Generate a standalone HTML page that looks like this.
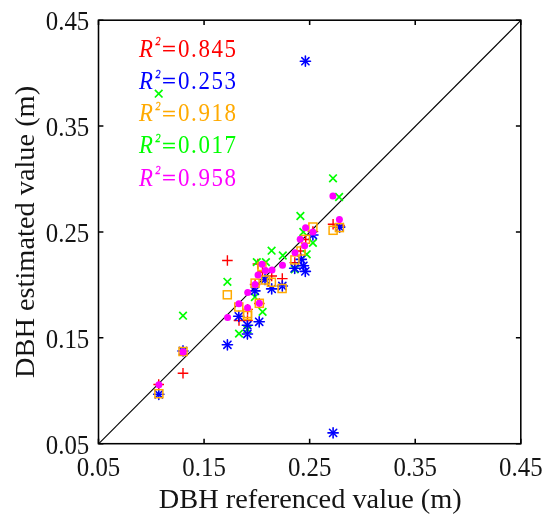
<!DOCTYPE html>
<html><head><meta charset="utf-8"><style>
html,body{margin:0;padding:0;background:#fff;width:550px;height:525px;overflow:hidden}
svg{display:block}
</style></head><body>
<svg width="550" height="525" viewBox="0 0 550 525">
<rect width="550" height="525" fill="#fff"/>
<line x1="98.8" y1="443.7" x2="521.0999999999999" y2="20.2" stroke="#000" stroke-width="1.15"/>
<g stroke-width="1.4" fill="none" stroke-linecap="butt">
<path d="M153.40 384.50H164.00M158.70 379.20V389.80" stroke="#ff0000"/>
<path d="M177.70 373.30H188.30M183.00 368.00V378.60" stroke="#ff0000"/>
<path d="M222.10 260.50H232.70M227.40 255.20V265.80" stroke="#ff0000"/>
<path d="M233.70 320.50H244.30M239.00 315.20V325.80" stroke="#ff0000"/>
<path d="M242.20 320.50H252.80M247.50 315.20V325.80" stroke="#ff0000"/>
<path d="M242.30 309.40H252.90M247.60 304.10V314.70" stroke="#ff0000"/>
<path d="M252.60 264.00H263.20M257.90 258.70V269.30" stroke="#ff0000"/>
<path d="M257.20 272.00H267.80M262.50 266.70V277.30" stroke="#ff0000"/>
<path d="M266.40 276.00H277.00M271.70 270.70V281.30" stroke="#ff0000"/>
<path d="M277.00 278.60H287.60M282.30 273.30V283.90" stroke="#ff0000"/>
<path d="M289.50 262.60H300.10M294.80 257.30V267.90" stroke="#ff0000"/>
<path d="M295.20 251.00H305.80M300.50 245.70V256.30" stroke="#ff0000"/>
<path d="M300.40 239.50H311.00M305.70 234.20V244.80" stroke="#ff0000"/>
<path d="M307.60 231.60H318.20M312.90 226.30V236.90" stroke="#ff0000"/>
<path d="M327.80 224.30H338.40M333.10 219.00V229.60" stroke="#ff0000"/>
<path d="M334.20 225.50H344.80M339.50 220.20V230.80" stroke="#ff0000"/>
<path d="M249.80 284.50H260.40M255.10 279.20V289.80" stroke="#ff0000"/>
<path d="M254.00 303.50H264.60M259.30 298.20V308.80" stroke="#ff0000"/>
</g>
<g stroke-width="1.7" fill="none" stroke-linecap="butt">
<path d="M154.90 89.90L162.50 97.50M154.90 97.50L162.50 89.90" stroke="#00ff00"/>
<path d="M179.20 311.90L186.80 319.50M179.20 319.50L186.80 311.90" stroke="#00ff00"/>
<path d="M223.60 278.00L231.20 285.60M223.60 285.60L231.20 278.00" stroke="#00ff00"/>
<path d="M235.20 329.80L242.80 337.40M235.20 337.40L242.80 329.80" stroke="#00ff00"/>
<path d="M243.60 325.60L251.20 333.20M243.60 333.20L251.20 325.60" stroke="#00ff00"/>
<path d="M253.00 258.30L260.60 265.90M253.00 265.90L260.60 258.30" stroke="#00ff00"/>
<path d="M262.10 258.30L269.70 265.90M262.10 265.90L269.70 258.30" stroke="#00ff00"/>
<path d="M267.80 246.90L275.40 254.50M267.80 254.50L275.40 246.90" stroke="#00ff00"/>
<path d="M279.00 251.70L286.60 259.30M279.00 259.30L286.60 251.70" stroke="#00ff00"/>
<path d="M251.10 293.20L258.70 300.80M251.10 300.80L258.70 293.20" stroke="#00ff00"/>
<path d="M258.80 308.10L266.40 315.70M258.80 315.70L266.40 308.10" stroke="#00ff00"/>
<path d="M290.90 265.60L298.50 273.20M290.90 273.20L298.50 265.60" stroke="#00ff00"/>
<path d="M296.60 212.20L304.20 219.80M296.60 219.80L304.20 212.20" stroke="#00ff00"/>
<path d="M299.50 228.20L307.10 235.80M299.50 235.80L307.10 228.20" stroke="#00ff00"/>
<path d="M302.90 250.50L310.50 258.10M302.90 258.10L310.50 250.50" stroke="#00ff00"/>
<path d="M309.10 239.10L316.70 246.70M309.10 246.70L316.70 239.10" stroke="#00ff00"/>
<path d="M329.20 174.50L336.80 182.10M329.20 182.10L336.80 174.50" stroke="#00ff00"/>
<path d="M335.30 193.20L342.90 200.80M335.30 200.80L342.90 193.20" stroke="#00ff00"/>
</g>
<g stroke-width="1.6" fill="none" stroke-linecap="round">
<path d="M153.70 394.30H163.90M158.80 389.20V399.40" stroke="#0000ff"/><path d="M155.20 390.70L162.40 397.90M155.20 397.90L162.40 390.70" stroke="#0000ff"/>
<path d="M177.90 351.00H188.10M183.00 345.90V356.10" stroke="#0000ff"/><path d="M179.40 347.40L186.60 354.60M179.40 354.60L186.60 347.40" stroke="#0000ff"/>
<path d="M222.30 344.80H232.50M227.40 339.70V349.90" stroke="#0000ff"/><path d="M223.80 341.20L231.00 348.40M223.80 348.40L231.00 341.20" stroke="#0000ff"/>
<path d="M233.70 316.30H243.90M238.80 311.20V321.40" stroke="#0000ff"/><path d="M235.20 312.70L242.40 319.90M235.20 319.90L242.40 312.70" stroke="#0000ff"/>
<path d="M242.30 325.20H252.50M247.40 320.10V330.30" stroke="#0000ff"/><path d="M243.80 321.60L251.00 328.80M243.80 328.80L251.00 321.60" stroke="#0000ff"/>
<path d="M242.30 334.00H252.50M247.40 328.90V339.10" stroke="#0000ff"/><path d="M243.80 330.40L251.00 337.60M243.80 337.60L251.00 330.40" stroke="#0000ff"/>
<path d="M254.10 321.80H264.30M259.20 316.70V326.90" stroke="#0000ff"/><path d="M255.60 318.20L262.80 325.40M255.60 325.40L262.80 318.20" stroke="#0000ff"/>
<path d="M249.80 290.90H260.00M254.90 285.80V296.00" stroke="#0000ff"/><path d="M251.30 287.30L258.50 294.50M251.30 294.50L258.50 287.30" stroke="#0000ff"/>
<path d="M259.90 279.50H270.10M265.00 274.40V284.60" stroke="#0000ff"/><path d="M261.40 275.90L268.60 283.10M261.40 283.10L268.60 275.90" stroke="#0000ff"/>
<path d="M266.60 288.90H276.80M271.70 283.80V294.00" stroke="#0000ff"/><path d="M268.10 285.30L275.30 292.50M268.10 292.50L275.30 285.30" stroke="#0000ff"/>
<path d="M277.20 286.00H287.40M282.30 280.90V291.10" stroke="#0000ff"/><path d="M278.70 282.40L285.90 289.60M278.70 289.60L285.90 282.40" stroke="#0000ff"/>
<path d="M289.60 268.30H299.80M294.70 263.20V273.40" stroke="#0000ff"/><path d="M291.10 264.70L298.30 271.90M291.10 271.90L298.30 264.70" stroke="#0000ff"/>
<path d="M296.10 259.40H306.30M301.20 254.30V264.50" stroke="#0000ff"/><path d="M297.60 255.80L304.80 263.00M297.60 263.00L304.80 255.80" stroke="#0000ff"/>
<path d="M298.30 265.80H308.50M303.40 260.70V270.90" stroke="#0000ff"/><path d="M299.80 262.20L307.00 269.40M299.80 269.40L307.00 262.20" stroke="#0000ff"/>
<path d="M300.20 271.40H310.40M305.30 266.30V276.50" stroke="#0000ff"/><path d="M301.70 267.80L308.90 275.00M301.70 275.00L308.90 267.80" stroke="#0000ff"/>
<path d="M300.30 61.20H310.50M305.40 56.10V66.30" stroke="#0000ff"/><path d="M301.80 57.60L309.00 64.80M301.80 64.80L309.00 57.60" stroke="#0000ff"/>
<path d="M307.80 235.00H318.00M312.90 229.90V240.10" stroke="#0000ff"/><path d="M309.30 231.40L316.50 238.60M309.30 238.60L316.50 231.40" stroke="#0000ff"/>
<path d="M328.00 432.90H338.20M333.10 427.80V438.00" stroke="#0000ff"/><path d="M329.50 429.30L336.70 436.50M329.50 436.50L336.70 429.30" stroke="#0000ff"/>
<path d="M334.60 227.10H344.80M339.70 222.00V232.20" stroke="#0000ff"/><path d="M336.10 223.50L343.30 230.70M336.10 230.70L343.30 223.50" stroke="#0000ff"/>
</g>
<g stroke-width="1.5" fill="none">
<rect x="154.90" y="389.70" width="8.00" height="8.00" stroke="#ffaa00" fill="none"/>
<rect x="179.00" y="347.50" width="8.00" height="8.00" stroke="#ffaa00" fill="none"/>
<rect x="223.30" y="290.80" width="8.00" height="8.00" stroke="#ffaa00" fill="none"/>
<rect x="234.80" y="303.00" width="8.00" height="8.00" stroke="#ffaa00" fill="none"/>
<rect x="243.50" y="309.60" width="8.00" height="8.00" stroke="#ffaa00" fill="none"/>
<rect x="243.50" y="311.50" width="8.00" height="8.00" stroke="#ffaa00" fill="none"/>
<rect x="255.30" y="299.30" width="8.00" height="8.00" stroke="#ffaa00" fill="none"/>
<rect x="251.10" y="279.10" width="8.00" height="8.00" stroke="#ffaa00" fill="none"/>
<rect x="257.90" y="262.50" width="8.00" height="8.00" stroke="#ffaa00" fill="none"/>
<rect x="261.50" y="276.00" width="8.00" height="8.00" stroke="#ffaa00" fill="none"/>
<rect x="267.40" y="278.30" width="8.00" height="8.00" stroke="#ffaa00" fill="none"/>
<rect x="278.10" y="284.50" width="8.00" height="8.00" stroke="#ffaa00" fill="none"/>
<rect x="290.90" y="255.90" width="8.00" height="8.00" stroke="#ffaa00" fill="none"/>
<rect x="297.00" y="247.00" width="8.00" height="8.00" stroke="#ffaa00" fill="none"/>
<rect x="301.50" y="235.30" width="8.00" height="8.00" stroke="#ffaa00" fill="none"/>
<rect x="308.90" y="223.00" width="8.00" height="8.00" stroke="#ffaa00" fill="none"/>
<rect x="329.10" y="226.30" width="8.00" height="8.00" stroke="#ffaa00" fill="none"/>
<rect x="335.40" y="223.60" width="8.00" height="8.00" stroke="#ffaa00" fill="none"/>
</g>
<circle cx="158.90" cy="384.80" r="3.5" fill="#ff00ff"/>
<circle cx="183.10" cy="352.00" r="3.5" fill="#ff00ff"/>
<circle cx="227.60" cy="317.60" r="3.5" fill="#ff00ff"/>
<circle cx="238.90" cy="303.70" r="3.5" fill="#ff00ff"/>
<circle cx="247.60" cy="307.80" r="3.5" fill="#ff00ff"/>
<circle cx="247.70" cy="292.60" r="3.5" fill="#ff00ff"/>
<circle cx="255.10" cy="284.60" r="3.5" fill="#ff00ff"/>
<circle cx="258.00" cy="275.00" r="3.5" fill="#ff00ff"/>
<circle cx="262.10" cy="264.20" r="3.5" fill="#ff00ff"/>
<circle cx="265.50" cy="270.50" r="3.5" fill="#ff00ff"/>
<circle cx="272.00" cy="270.10" r="3.5" fill="#ff00ff"/>
<circle cx="259.30" cy="303.30" r="3.5" fill="#ff00ff"/>
<circle cx="282.50" cy="265.30" r="3.5" fill="#ff00ff"/>
<circle cx="295.00" cy="252.80" r="3.5" fill="#ff00ff"/>
<circle cx="300.20" cy="239.30" r="3.5" fill="#ff00ff"/>
<circle cx="304.60" cy="245.70" r="3.5" fill="#ff00ff"/>
<circle cx="305.60" cy="227.80" r="3.5" fill="#ff00ff"/>
<circle cx="312.90" cy="232.00" r="3.5" fill="#ff00ff"/>
<circle cx="332.90" cy="196.10" r="3.5" fill="#ff00ff"/>
<circle cx="339.40" cy="219.40" r="3.5" fill="#ff00ff"/>
<rect x="98.5" y="20.2" width="422.30" height="423.50" fill="none" stroke="#000" stroke-width="1.55"/>
<path d="M98.50 443.7V438.80M98.50 20.2V25.10M98.5 443.70H103.40M520.8 443.70H515.90M204.07 443.7V438.80M204.07 20.2V25.10M98.5 337.82H103.40M520.8 337.82H515.90M309.65 443.7V438.80M309.65 20.2V25.10M98.5 231.95H103.40M520.8 231.95H515.90M415.22 443.7V438.80M415.22 20.2V25.10M98.5 126.08H103.40M520.8 126.08H515.90M520.80 443.7V438.80M520.80 20.2V25.10M98.5 20.20H103.40M520.8 20.20H515.90" stroke="#000" stroke-width="1.55" fill="none"/>
<g font-family="Liberation Serif, serif" font-size="26.6" fill="#141414"><text transform="translate(98.50 475.7) scale(0.935 1)" text-anchor="middle">0.05</text><text transform="translate(89.3 453.90) scale(0.935 1)" text-anchor="end">0.05</text><text transform="translate(204.07 475.7) scale(0.935 1)" text-anchor="middle">0.15</text><text transform="translate(89.3 348.02) scale(0.935 1)" text-anchor="end">0.15</text><text transform="translate(309.65 475.7) scale(0.935 1)" text-anchor="middle">0.25</text><text transform="translate(89.3 242.15) scale(0.935 1)" text-anchor="end">0.25</text><text transform="translate(415.22 475.7) scale(0.935 1)" text-anchor="middle">0.35</text><text transform="translate(89.3 136.28) scale(0.935 1)" text-anchor="end">0.35</text><text transform="translate(520.80 475.7) scale(0.935 1)" text-anchor="middle">0.45</text><text transform="translate(89.3 30.40) scale(0.935 1)" text-anchor="end">0.45</text></g>
<text x="310.3" y="508.2" text-anchor="middle" font-family="Liberation Serif, serif" font-size="28.35" fill="#141414">DBH referenced value (m)</text>
<text transform="translate(34.1 231.9) rotate(-90)" x="0" y="0" text-anchor="middle" font-family="Liberation Serif, serif" font-size="28.35" fill="#141414">DBH estimated value (m)</text>
<g fill="#ff0000" font-family="Liberation Serif, serif"><text transform="translate(139.0 56.80) scale(0.92 1)" font-size="24.8" font-style="italic">R</text><text transform="translate(155.6 45.40) scale(0.87 1)" font-size="11.5" font-style="italic" stroke="#ff0000" stroke-width="0.35">2</text><text transform="translate(161.9 56.10) scale(1 0.82)" font-size="24.7" stroke="#ff0000" stroke-width="0.45">=</text><text transform="translate(177.9 56.80) scale(0.93 1)" font-size="24.7" letter-spacing="1.75">0.845</text></g>
<g fill="#0000ff" font-family="Liberation Serif, serif"><text transform="translate(139.0 89.00) scale(0.92 1)" font-size="24.8" font-style="italic">R</text><text transform="translate(155.6 77.60) scale(0.87 1)" font-size="11.5" font-style="italic" stroke="#0000ff" stroke-width="0.35">2</text><text transform="translate(161.9 88.30) scale(1 0.82)" font-size="24.7" stroke="#0000ff" stroke-width="0.45">=</text><text transform="translate(177.9 89.00) scale(0.93 1)" font-size="24.7" letter-spacing="1.75">0.253</text></g>
<g fill="#ffaa00" font-family="Liberation Serif, serif"><text transform="translate(139.0 121.20) scale(0.92 1)" font-size="24.8" font-style="italic">R</text><text transform="translate(155.6 109.80) scale(0.87 1)" font-size="11.5" font-style="italic" stroke="#ffaa00" stroke-width="0.35">2</text><text transform="translate(161.9 120.50) scale(1 0.82)" font-size="24.7" stroke="#ffaa00" stroke-width="0.45">=</text><text transform="translate(177.9 121.20) scale(0.93 1)" font-size="24.7" letter-spacing="1.75">0.918</text></g>
<g fill="#00ff00" font-family="Liberation Serif, serif"><text transform="translate(139.0 153.40) scale(0.92 1)" font-size="24.8" font-style="italic">R</text><text transform="translate(155.6 142.00) scale(0.87 1)" font-size="11.5" font-style="italic" stroke="#00ff00" stroke-width="0.35">2</text><text transform="translate(161.9 152.70) scale(1 0.82)" font-size="24.7" stroke="#00ff00" stroke-width="0.45">=</text><text transform="translate(177.9 153.40) scale(0.93 1)" font-size="24.7" letter-spacing="1.75">0.017</text></g>
<g fill="#ff00ff" font-family="Liberation Serif, serif"><text transform="translate(139.0 185.60) scale(0.92 1)" font-size="24.8" font-style="italic">R</text><text transform="translate(155.6 174.20) scale(0.87 1)" font-size="11.5" font-style="italic" stroke="#ff00ff" stroke-width="0.35">2</text><text transform="translate(161.9 184.90) scale(1 0.82)" font-size="24.7" stroke="#ff00ff" stroke-width="0.45">=</text><text transform="translate(177.9 185.60) scale(0.93 1)" font-size="24.7" letter-spacing="1.75">0.958</text></g>
</svg>
</body></html>
